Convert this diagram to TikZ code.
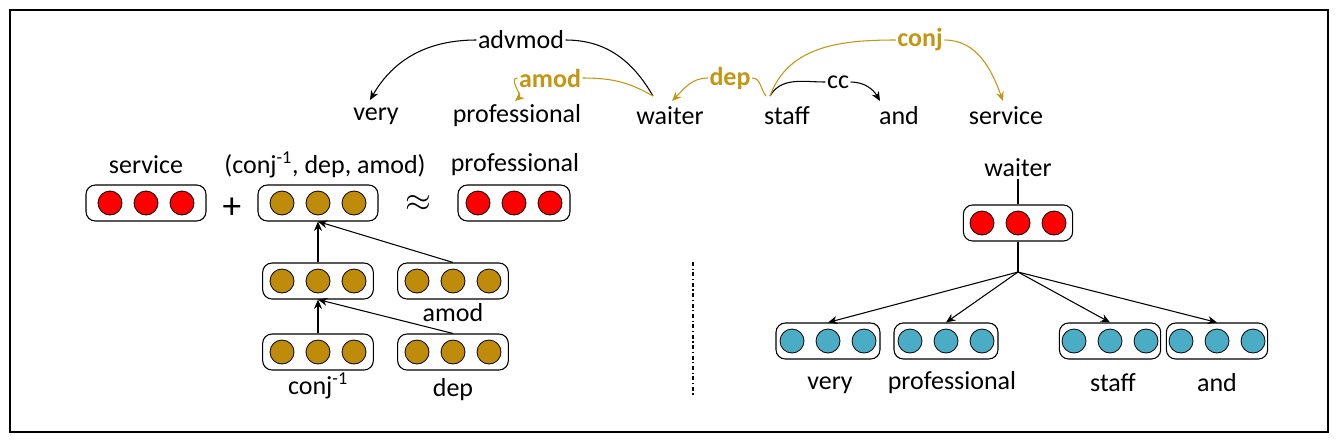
\documentclass[tikz,border=0pt]{standalone}
\usepackage{fontspec}
\setmainfont{Carlito}
\usetikzlibrary{arrows.meta,calc}
\definecolor{gold}{RGB}{196,150,20}
\definecolor{vgold}{RGB}{190,140,10}
\definecolor{vblue}{RGB}{75,172,198}
\tikzset{
  word/.style={inner sep=1pt, font=\fontsize{19.5}{22}\selectfont},
  rel/.style={inner sep=1pt, font=\fontsize{19.5}{22}\selectfont},
  vbox/.style={draw, rounded corners=7pt, minimum height=27pt, line width=0.8pt},
  dot/.style={draw, circle, minimum size=18pt, inner sep=0pt, line width=0.6pt},
  arc/.style={line width=0.8pt},
  tip/.style={-{Stealth[length=7pt,width=6pt]}}
}
% vector of three circles: name, centre, colour, width
\newcommand{\vecbox}[4]{%
  \node[vbox, minimum width=#4] (#1) at #2 {};
  \foreach \k in {-1,0,1}
    \node[dot, fill=#3] at ($(#1)+(\k*27pt,0)$) {};
}
\begin{document}
\begin{tikzpicture}[x=0.75pt,y=0.75pt,yscale=-1,xscale=1]
\useasboundingbox (0,0) rectangle (1339,440);
%frame
\draw[line width=0.8pt] (10,10) rectangle (1328,432);
\draw[line width=0.8pt, dash dot] (693,262) -- (693,396);

%sentence
\node[word] (very) at (376,116) {very};
\node[word] (professional) at (517,116) {professional};
\node[word] (waiter) at (670,116) {waiter};
\node[word] (staff) at (787,116) {staff};
\node[word] (and) at (899,116) {and};
\node[word] (service) at (1006,116) {service};

\node[rel] (advmod) at (521,40) {advmod};
\node[rel, text=gold] (amod) at (550,78) {\textbf{amod}};
\node[rel, text=gold] (dep) at (730,78) {\textbf{dep}};
\node[rel] (cc) at (838,82) {cc};
\node[rel, text=gold] (conj) at (920,40) {\textbf{conj}};

\draw[arc] (653,96) to[out=-120,in=0] (advmod.east);
\draw[arc, tip] (advmod.west) to[out=180,in=-60] (370,100);
\draw[arc, gold] (653,96) to[out=-150,in=0] (amod.east);
\draw[arc, gold, tip] (amod.west) to[out=180,in=-40] (515,101);
\draw[arc, gold] (766,96) to[out=-130,in=0] (dep.east);
\draw[arc, gold, tip] (dep.west) to[out=180,in=-45] (672,101);
\draw[arc] (770,96) to[out=-60,in=180] (cc.west);
\draw[arc, tip] (cc.east) to[out=0,in=-120] (880,101);
\draw[arc, gold] (770,96) to[out=-70,in=180] (conj.west);
\draw[arc, gold, tip] (conj.east) to[out=0,in=-110] (1003,101);

%left: translation
\node[word] (lservice) at (146,165) {service};
\node[word] (lpath) at (325,165) {(conj\textsuperscript{-1}, dep, amod)};
\node[word] (lprof) at (515,165) {professional};
\vecbox{vs}{(146,203)}{red}{90pt}
\vecbox{vr}{(318,203)}{vgold}{90pt}
\vecbox{vp}{(514,203)}{red}{84pt}
\node[word, font=\fontsize{28}{30}\selectfont] (plus) at (232,208) {+};
\node[word, font=\fontsize{24}{26}\selectfont] (approx) at (418,203) {$\approx$};

\vecbox{vm}{(318,281)}{vgold}{83pt}
\vecbox{va}{(453,281)}{vgold}{83pt}
\vecbox{vc}{(318,352)}{vgold}{83pt}
\vecbox{vd}{(453,352)}{vgold}{83pt}
\node[word] (lamod) at (453,313) {amod};
\node[word] (lconj) at (318,386) {conj\textsuperscript{-1}};
\node[word] (ldep) at (453,390) {dep};

\draw[arc, tip] (vm.north) -- (vr.south);
\draw[arc, tip] (va.north) -- (vr.south);
\draw[arc, tip] (vc.north) -- (vm.south);
\draw[arc, tip] (vd.north) -- (vm.south);

%right: tree
\node[word] (rwaiter) at (1018,168) {waiter};
\vecbox{vw}{(1018,223)}{red}{82pt}
\coordinate (fork) at (1018,272);
\vecbox{bv}{(828,341)}{vblue}{78pt}
\vecbox{bp}{(946,341)}{vblue}{78pt}
\vecbox{bs}{(1110,341)}{vblue}{76pt}
\vecbox{ba}{(1217,341)}{vblue}{76pt}
\node[word] (rvery) at (830,385) {very};
\node[word] (rprof) at (952,383) {professional};
\node[word] (rstaff) at (1113,383) {staff};
\node[word] (rand) at (1217,383) {and};

\draw[arc] (rwaiter.south) -- (vw.north);
\draw[arc] (vw.south) -- (fork);
\draw[arc, tip] (fork) -- (bv.north);
\draw[arc, tip] (fork) -- (bp.north);
\draw[arc, tip] (fork) -- (bs.north);
\draw[arc, tip] (fork) -- (ba.north);
\end{tikzpicture}
\end{document}
